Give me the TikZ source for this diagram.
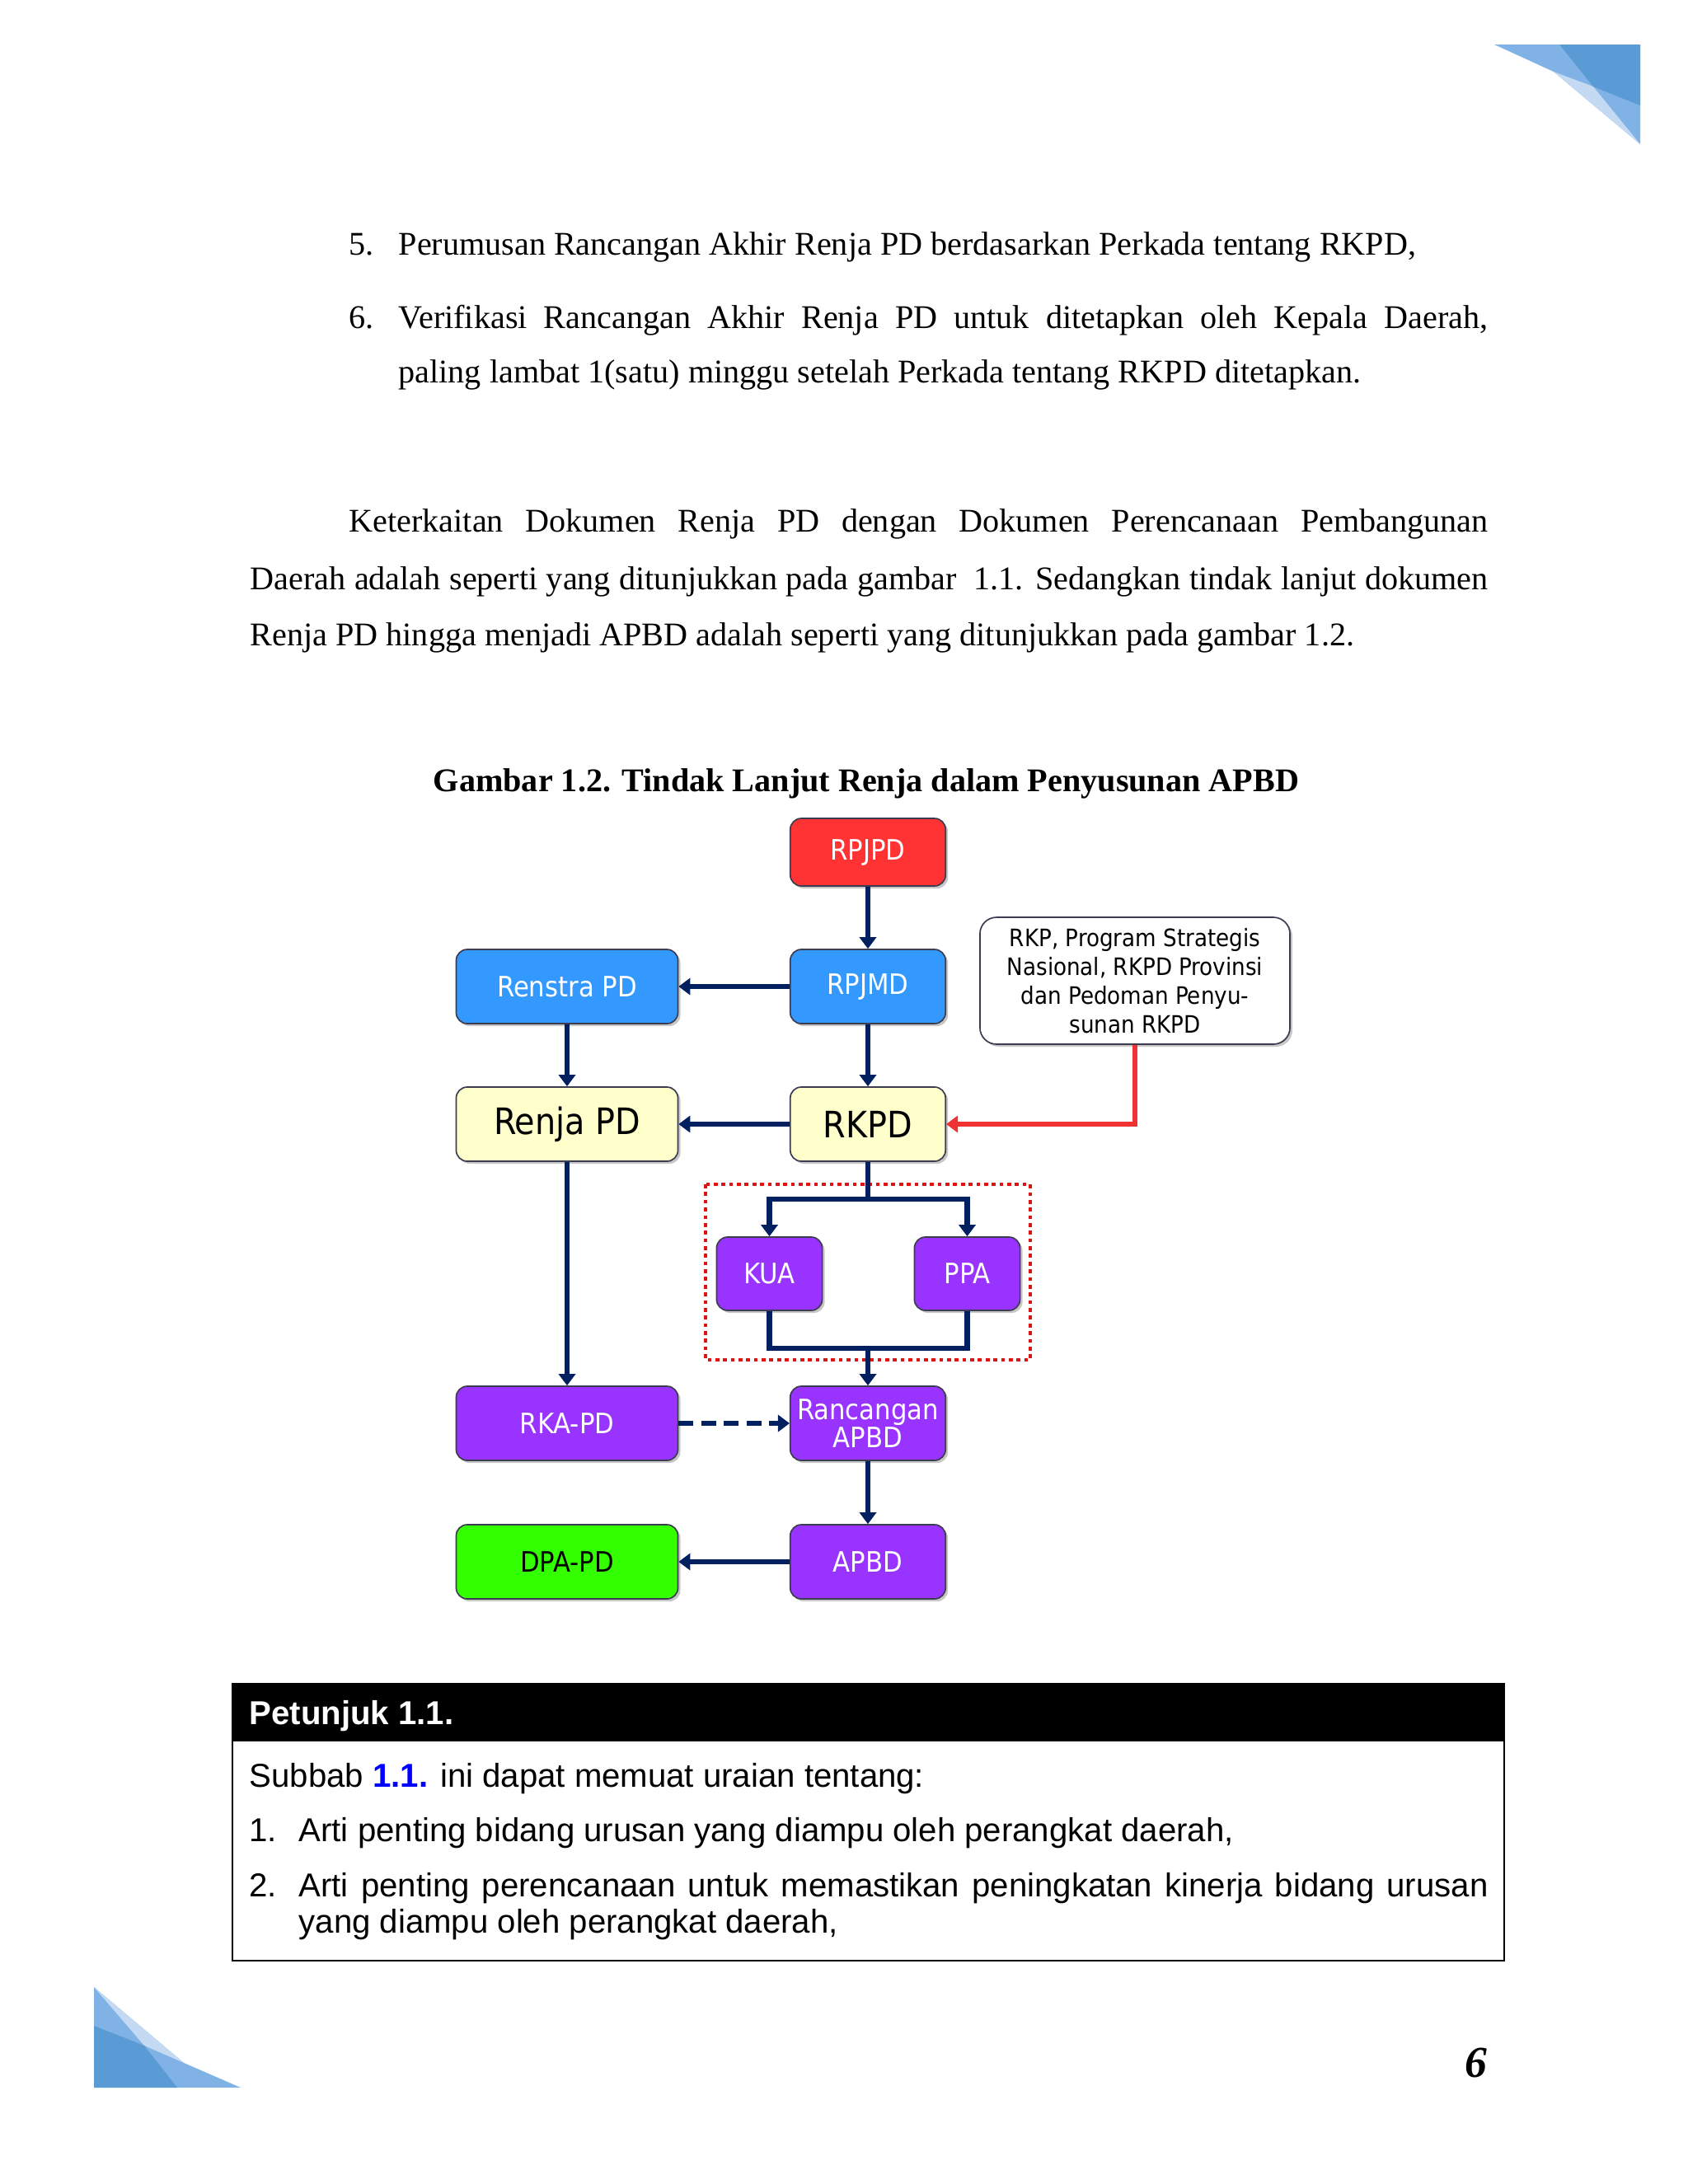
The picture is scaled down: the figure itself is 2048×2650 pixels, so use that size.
\documentclass[tikz,border=0pt]{standalone}
\usepackage{fontspec}
\setmainfont{Liberation Serif}
\newfontfamily\arialf{Liberation Sans}
\newfontfamily\diagf{DejaVu Sans Condensed}
\usetikzlibrary{arrows.meta,shadows}
\definecolor{navyc}{RGB}{0,32,96}
\definecolor{redfill}{RGB}{255,51,51}
\definecolor{bluefill}{RGB}{51,153,255}
\definecolor{creamfill}{RGB}{255,255,204}
\definecolor{purplefill}{RGB}{153,51,255}
\definecolor{greenfill}{RGB}{51,255,0}
\definecolor{boxedge}{RGB}{60,60,80}
\definecolor{redline}{RGB}{240,50,50}
\definecolor{dotred}{RGB}{220,20,20}
\definecolor{decodark}{RGB}{91,155,213}
\definecolor{decomid}{RGB}{128,178,229}
\definecolor{decolight}{RGB}{195,218,242}
\definecolor{linkblue}{RGB}{0,0,255}
\tikzset{
  dbox/.style={draw=boxedge, line width=0.5pt, rounded corners=4pt, inner sep=0pt,
    align=center, text=white, font=\diagf\fontsize{10.2}{10.4}\selectfont,
    minimum height=26.9pt,
    general shadow={fill=black, opacity=0.22, shadow xshift=0.9pt, shadow yshift=-0.9pt}},
  widebox/.style={minimum width=80.4pt},
  midbox/.style={minimum width=56.3pt},
  smallbox/.style={minimum width=38.3pt, minimum height=26.6pt},
  conn/.style={draw=navyc, line width=1.8pt, -{Triangle[length=4.2pt,width=6pt]}},
  plainconn/.style={draw=navyc, line width=1.8pt},
  redconn/.style={draw=redline, line width=1.8pt, -{Triangle[length=4.2pt,width=6pt]}},
  dashconn/.style={draw=navyc, line width=1.8pt, dash pattern=on 5.4pt off 2.8pt, -{Triangle[length=4.2pt,width=6pt]}},
  txt/.style={inner sep=0pt, anchor=base west, font=\fontsize{12}{14}\selectfont},
  atxt/.style={inner sep=0pt, anchor=base west, font=\arialf\fontsize{12}{14}\selectfont},
}
\begin{document}
\begin{tikzpicture}[x=0.298828pt, y=-0.298828pt]
\useasboundingbox (0,0) rectangle (2048,2650);
\fill[white] (0,0) rectangle (2048,2650);

% corner decorations
\fill[decomid] (1813,54) -- (1990,54) -- (1990,175) -- (1885,87) -- cycle;
\fill[decolight] (1885,87) -- (1933,105) -- (1990,175) -- cycle;
\fill[decodark] (1892,54) -- (1990,54) -- (1990,128) -- (1933,105) -- cycle;

\fill[decomid] (114,2411) -- (223,2503) -- (292,2533) -- (114,2533) -- cycle;
\fill[decolight] (114,2411) -- (223,2503) -- (175,2482) -- cycle;
\fill[decodark] (114,2458) -- (175,2482) -- (215,2533) -- (114,2533) -- cycle;

% body text
\node[txt] (n5) at (423,309) {5.};
\node[txt] (l5) at (483,309) {Perumusan Rancangan Akhir Renja PD berdasarkan Perkada tentang RKPD,};
\node[txt] (n6) at (423,398) {6.};
\node[txt] (l6) at (483,398) {\makebox[395pt][s]{Verifikasi Rancangan Akhir Renja PD untuk ditetapkan oleh Kepala Daerah,}};
\node[txt] (l6b) at (483,464) {paling lambat 1(satu) minggu setelah Perkada tentang RKPD ditetapkan.};
\node[txt] (p1) at (423,645) {\makebox[413pt][s]{Keterkaitan Dokumen Renja PD dengan Dokumen Perencanaan Pembangunan}};
\node[txt] (p2) at (303,715) {\makebox[448.8pt][s]{Daerah adalah seperti yang ditunjukkan pada gambar\ \ 1.1. Sedangkan tindak lanjut dokumen}};
\node[txt] (p3) at (303,783) {Renja PD hingga menjadi APBD adalah seperti yang ditunjukkan pada gambar 1.2.};
\node[inner sep=0pt, anchor=base, font=\bfseries\fontsize{12}{14}\selectfont] (cap) at (1051,960) {Gambar 1.2. Tindak Lanjut Renja dalam Penyusunan APBD};

% diagram nodes
\node[dbox, midbox, fill=redfill, minimum height=24.5pt] (rpjpd) at (1053,1034) {RPJPD};
\node[dbox, midbox, fill=bluefill] (rpjmd) at (1053,1197) {RPJMD};
\node[dbox, widebox, fill=bluefill] (renstra) at (688,1197) {Renstra PD};
\node[dbox, fill=white, text=black, rounded corners=6pt, minimum width=112.4pt, minimum height=46pt,
      font=\diagf\fontsize{8.7}{10.5}\selectfont, general shadow={opacity=0}] (rkp) at (1377,1190)
      {RKP, Program Strategis\\Nasional, RKPD Provinsi\\dan Pedoman Penyu-\\sunan RKPD};
\node[dbox, widebox, fill=creamfill, text=black, font=\diagf\fontsize{13.2}{14}\selectfont] (renja) at (688,1364) {Renja PD};
\node[dbox, midbox, fill=creamfill, text=black, font=\diagf\fontsize{13.2}{14}\selectfont] (rkpd) at (1053,1364) {RKPD};
\node[dbox, smallbox, fill=purplefill] (kua) at (933.5,1545.5) {KUA};
\node[dbox, smallbox, fill=purplefill] (ppa) at (1173.5,1545.5) {PPA};
\node[dbox, widebox, fill=purplefill] (rka) at (688,1727) {RKA-PD};
\node[dbox, midbox, fill=purplefill] (ranc) at (1053,1727) {Rancangan\\APBD};
\node[dbox, midbox, fill=purplefill] (apbd) at (1053,1895) {APBD};
\node[dbox, widebox, fill=greenfill, text=black] (dpa) at (688,1895) {DPA-PD};

% dotted frame
\draw[dotred, line width=1.3pt, dash pattern=on 1.4pt off 1.4pt] (856,1437) rectangle (1250,1650);

\coordinate (fork) at (1053,1455);
\coordinate (join) at (1053,1636);

% connectors
\draw[conn] (rpjpd) -- (rpjmd);
\draw[conn] (rpjmd) -- (renstra);
\draw[conn] (renstra) -- (renja);
\draw[conn] (rpjmd) -- (rkpd);
\draw[conn] (rkpd) -- (renja);
\draw[redconn] (rkp.south) |- (rkpd.east);
\draw[plainconn] (rkpd.south) -- (fork);
\draw[conn] (fork) -| (kua.north);
\draw[conn] (fork) -| (ppa.north);
\draw[plainconn] (kua.south) |- (join) -| (ppa.south);
\draw[conn] (join) -- (ranc.north);
\draw[conn] (renja) -- (rka);
\draw[dashconn] (rka) -- (ranc);
\draw[conn] (ranc) -- (apbd);
\draw[conn] (apbd) -- (dpa);

% Petunjuk box
\fill[black] (282,2043) rectangle (1825,2113);
\draw[black, line width=0.7pt] (282,2043) rectangle (1825,2379);
\node[atxt, text=white, font=\arialf\bfseries\fontsize{12}{14}\selectfont] (ph) at (302,2092) {Petunjuk 1.1.};
\node[atxt] (ps) at (302,2168) {Subbab \textcolor{linkblue}{\bfseries 1.1.} ini dapat memuat uraian tentang:};
\node[atxt] (pn1) at (302,2234) {1.};
\node[atxt] (pi1) at (362,2234) {Arti penting bidang urusan yang diampu oleh perangkat daerah,};
\node[atxt] (pn2) at (302,2301) {2.};
\node[atxt] (pi2) at (362,2301) {\makebox[431.2pt][s]{Arti penting perencanaan untuk memastikan peningkatan kinerja bidang urusan}};
\node[atxt] (pi2b) at (362,2345) {yang diampu oleh perangkat daerah,};

% page number
\node[inner sep=0pt, anchor=base east, font=\bfseries\itshape\fontsize{16}{18}\selectfont] (pg) at (1805,2520) {6};
\end{tikzpicture}
\end{document}
